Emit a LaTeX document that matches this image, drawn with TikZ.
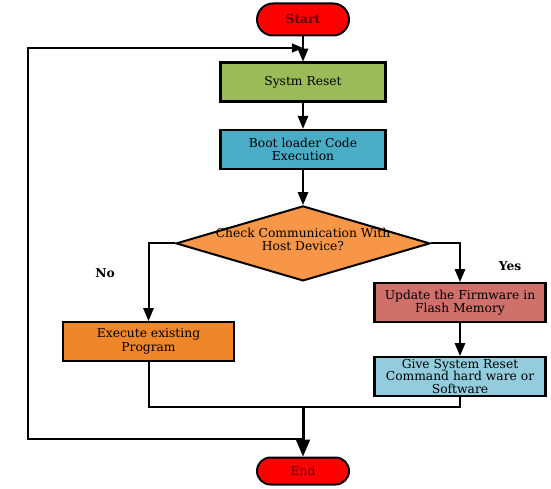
\documentclass[tikz,border=0pt]{standalone}
\usepackage{fontspec}
\setmainfont{DejaVu Serif}
\usetikzlibrary{arrows,calc,shapes,positioning}
\definecolor{termcol}{HTML}{FF0000}
\definecolor{termtext}{HTML}{600000}
\definecolor{resetcol}{HTML}{9BBB59}
\definecolor{bootcol}{HTML}{4BACC6}
\definecolor{checkcol}{HTML}{F79646}
\definecolor{execcol}{HTML}{F0862A}
\definecolor{updcol}{HTML}{D0706A}
\definecolor{givecol}{HTML}{93CDDD}
\newcommand{\fcfont}{\fontsize{12.3}{13.5}\selectfont}
\tikzset{FC style/.style={>=triangle 45,every node/.style={font=\fcfont}},
	term/.style={rounded rectangle,draw,line width=2pt,fill=termcol,text=termtext,minimum width=94pt,inner sep=1pt},
	procbox/.style={rectangle,draw,line width=2.2pt,align=center,minimum height=39pt,inner sep=1pt},
	decision/.style={diamond,draw,line width=2pt,fill=checkcol,minimum width=254pt,minimum height=75pt,inner sep=0pt},
	flow/.style={->,line width=2pt},
	loopline/.style={line width=1.6pt}}

\begin{document}
\begin{tikzpicture}[x=1pt,y=1pt,FC style]
	\useasboundingbox (0,0) rectangle (551,-489);

	\node[term, minimum height=32pt, font=\fcfont\bfseries] (start) at (303,-19.5) {Start};
	\node[procbox, fill=resetcol, minimum width=165pt] [below = 25pt of start] (reset) {Systm Reset};
	\node[procbox, fill=bootcol, minimum width=165pt] [below = 26pt of reset] (boot) {Boot loader Code\\Execution};
	\node[decision] [below = 35pt of boot] (check)
		[label={[align=center,yshift=4pt]center:Check Communication With\\Host Device?}] {};
	\node[procbox, fill=execcol, minimum width=171pt] (exec) at (148.5,-341.5) {Execute existing\\Program};
	\node[procbox, fill=updcol, minimum width=171pt] (update) at (460,-302.5) {Update the Firmware in\\Flash Memory};
	\node[procbox, fill=givecol, minimum width=171pt, minimum height=39pt, font=\fontsize{12.3}{12.6}\selectfont, inner sep=0pt]
		(give) at (460,-376.5) {Give System Reset\\Command hard ware or\\Software};
	\node[term, minimum height=27pt] (end) at (303,-471) {End};

	\node[font=\fcfont\bfseries] (nolab) at (105,-273) {No};
	\node[font=\fcfont\bfseries] (yeslab) at (510,-266) {Yes};

	\coordinate (merge) at (303,-407);
	\coordinate (loopout) at (303,-439);
	\coordinate (loopin) at (303,-48);

	% main line
	\draw[flow] (start) -- (reset);
	\draw[flow] (reset) -- (boot);
	\draw[flow] (boot) -- (check);
	\draw[flow] (check.west) -| (exec.north);
	\draw[flow] (check.east) -| (update.north);
	\draw[flow] (update) -- (give);
	\draw[line width=2pt] (exec.south) |- (merge);
	\draw[line width=2pt] (give.south) |- (merge);
	\draw[->, line width=3pt] (merge) -- (end);

	% back to reset
	\draw[loopline,->] (loopout) -| (28,-48) -- (loopin);
\end{tikzpicture}
\end{document}
